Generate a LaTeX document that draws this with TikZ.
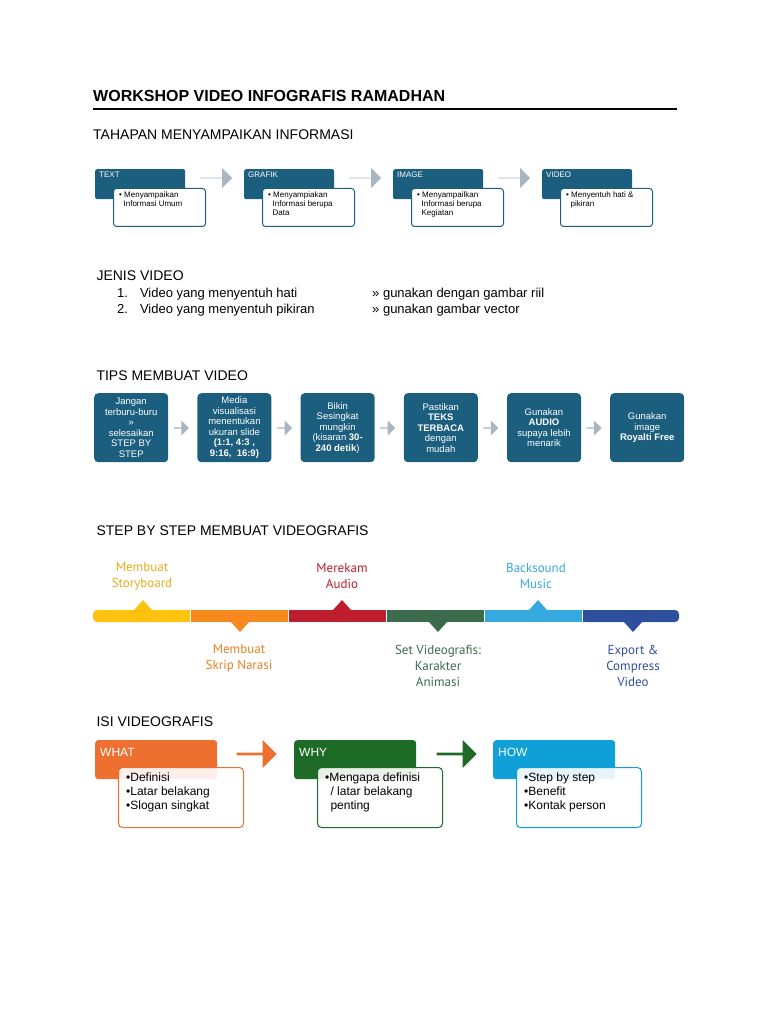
\documentclass[tikz,border=0pt]{standalone}
\usepackage{fontspec}
\setmainfont{Liberation Sans}
\newfontfamily\ptsans{PT Sans}
\usetikzlibrary{shapes.arrows,calc}
\definecolor{teal}{HTML}{1B5E7E}
\definecolor{garrow}{HTML}{A9B5C0}
\definecolor{cY}{HTML}{FFC20E}\definecolor{cO}{HTML}{F7891F}\definecolor{cR}{HTML}{BE1E2D}
\definecolor{cG}{HTML}{3B6B4C}\definecolor{cL}{HTML}{36A9E1}\definecolor{cB}{HTML}{2E4F9E}
\definecolor{tY}{HTML}{E6AC1A}\definecolor{tO}{HTML}{E9801F}
\definecolor{wO}{HTML}{ED7031}\definecolor{wG}{HTML}{1E6B28}\definecolor{wB}{HTML}{10A0D8}
\tikzset{
 head/.style={anchor=base west,font=\fontsize{14}{16}\selectfont},
 dbox/.style={fill=teal,rounded corners=2pt,minimum width=90pt,minimum height=30pt,anchor=north west,inner sep=0pt},
 dlab/.style={anchor=north west,text=white,font=\fontsize{8}{9}\selectfont,inner sep=0pt},
 wbox/.style={draw=teal,line width=1pt,fill=white,rounded corners=3pt,minimum width=92pt,minimum height=38pt,anchor=north west,inner sep=0pt},
 wtxt/.style={anchor=north west,align=left,font=\fontsize{8}{9}\selectfont,inner sep=0pt},
 garr/.style={single arrow,fill=garrow,draw=none,minimum height=32pt,single arrow head extend=4pt,minimum width=20pt,inner sep=0pt,single arrow head indent=0pt},
 tip/.style={fill=teal,rounded corners=4pt,minimum width=74pt,minimum height=69pt,anchor=north west,inner sep=0pt},
 tiptxt/.style={text=white,align=center,font=\fontsize{9.5}{10.5}\selectfont,inner sep=0pt},
 sarr/.style={single arrow,fill=garrow,draw=none,minimum height=15pt,minimum width=15pt,single arrow head extend=2pt,inner sep=0pt},
 stlab/.style={align=center,font=\ptsans\fontsize{13}{16}\selectfont,inner sep=0pt},
 ibox/.style={rounded corners=3pt,minimum width=122pt,minimum height=39pt,anchor=north west,inner sep=0pt},
 iwbox/.style={line width=1pt,fill=white,rounded corners=4pt,minimum width=125pt,minimum height=60pt,anchor=north west,inner sep=0pt},
 itxt/.style={anchor=north west,align=left,font=\fontsize{12}{14}\selectfont,inner sep=0pt},
 iarr/.style={single arrow,draw=none,minimum height=40pt,minimum width=28pt,single arrow head extend=2pt,inner sep=0pt,single arrow head indent=0pt},
}
\begin{document}
\begin{tikzpicture}[x=1pt,y=-1pt]
\useasboundingbox (0,0) rectangle (768,1024);
\node[anchor=base west,font=\bfseries\fontsize{16}{18}\selectfont,inner sep=0pt] (title) at (93,102) {WORKSHOP VIDEO INFOGRAFIS RAMADHAN};
\coordinate (l1) at (93,109); \coordinate (l2) at (677,109);
\draw[line width=1.2pt] (l1) -- (l2);
\node[head,inner sep=0pt] (h1) at (93,140) {TAHAPAN MENYAMPAIKAN INFORMASI};
% stage 1
\foreach \i/\t/\w [count=\k] in {0/TEXT/{• Menyampaikan\\\ \ Informasi Umum},1/GRAFIK/{• Menyampiakan\\\ \ Informasi berupa\\\ \ Data},2/IMAGE/{• Menyampailkan\\\ \ Informasi berupa\\\ \ Kegiatan},3/VIDEO/{• Menyentuh hati \&\\\ \ pikiran}}{
 \node[dbox] (d\k) at (95+149*\i,169) {};
 \node[dlab] (dl\k) at (99+149*\i,172) {\t};
 \node[wbox] (w\k) at (113+149*\i,188) {};
 \node[wtxt] (wt\k) at (119+149*\i,192) {\w};
}
\foreach \i in {0,1,2}{\node[garr] (ga\i) at (216+149*\i,178) {};}
% jenis video
\node[head] (h2) at (93,280) {JENIS VIDEO};
\node[anchor=base west,font=\fontsize{13}{15}\selectfont,inner sep=0pt] (j1) at (117,297) {1.\hspace{12pt}Video yang menyentuh hati};
\node[anchor=base west,font=\fontsize{13}{15}\selectfont,inner sep=0pt] (j1b) at (372,297) {>> gunakan dengan gambar riil};
\node[anchor=base west,font=\fontsize{13}{15}\selectfont,inner sep=0pt] (j2) at (117,313) {2.\hspace{12pt}Video yang menyentuh pikiran};
\node[anchor=base west,font=\fontsize{13}{15}\selectfont,inner sep=0pt] (j2b) at (372,313) {>> gunakan gambar vector};
% tips
\node[head] (h3) at (93,380) {TIPS MEMBUAT VIDEO};
\foreach \i/\t [count=\k] in {0/{Jangan\\terburu-buru\\>>\\selesaikan\\STEP BY\\STEP},1/{Media\\visualisasi\\menentukan\\ukuran slide\\\textbf{(1:1, 4:3 ,}\\\textbf{9:16,\ \ 16:9)}},2/{Bikin\\Sesingkat\\mungkin\\(kisaran \textbf{30-}\\\textbf{240 detik})},3/{Pastikan\\\textbf{TEKS}\\\textbf{TERBACA}\\dengan\\mudah},4/{Gunakan\\\textbf{AUDIO}\\supaya lebih\\menarik},5/{Gunakan\\image\\\textbf{Royalti Free}}}{
 \node[tip] (t\k) at (94+103.2*\i,393) {};
 \node[tiptxt] at (t\k.center) {\t};
}
\foreach \i in {0,...,4}{\node[sarr] (sa\i) at (181+103.2*\i,428) {};}
% step by step
\node[head] (h4) at (93,535) {STEP BY STEP MEMBUAT VIDEOGRAFIS};
\fill[cY,rounded corners=4pt] (93,610) rectangle (190,622);
\fill[cY] (180,610) rectangle (190,622);
\fill[cO] (191,610) rectangle (288,622);
\fill[cR] (289,610) rectangle (386,622);
\fill[cG] (387,610) rectangle (484,622);
\fill[cL] (485,610) rectangle (582,622);
\fill[cB,rounded corners=4pt] (583,610) rectangle (679,622);
\fill[cB] (583,610) rectangle (593,622);
\fill[cY] (134,610) -- (143,600) -- (152,610) -- cycle;
\fill[cR] (333,610) -- (342,600) -- (351,610) -- cycle;
\fill[cL] (529,610) -- (538,600) -- (547,610) -- cycle;
\fill[cO] (231,622) -- (240,632) -- (249,622) -- cycle;
\fill[cG] (429,622) -- (438,632) -- (447,622) -- cycle;
\fill[cB] (624,622) -- (633,632) -- (642,622) -- cycle;
\node[stlab,text=tY] (s1) at (142,576) {Membuat\\Storyboard};
\node[stlab,text=cR] (s3) at (342,576) {Merekam\\Audio};
\node[stlab,text=cL] (s5) at (536,576) {Backsound\\Music};
\node[stlab,text=tO] (s2) at (239,658) {Membuat\\Skrip Narasi};
\node[stlab,text=cG] (s4) at (438,666) {Set Videografis:\\Karakter\\Animasi};
\node[stlab,text=cB] (s6) at (633,666) {Export \&\\Compress\\Video};
% isi videografis
\node[head] (h5) at (93,726) {ISI VIDEOGRAFIS};
\foreach \i/\c/\t/\w [count=\k] in {0/wO/WHAT/{•Definisi\\•Latar belakang\\•Slogan singkat},1/wG/WHY/{•Mengapa definisi\\\ \,/ latar belakang\\\ \,penting},2/wB/HOW/{•Step by step\\•Benefit\\•Kontak person}}{
 \node[ibox,fill=\c] (ib\k) at (95+199*\i,740) {};
 \node[anchor=west,text=white,font=\fontsize{12}{14}\selectfont,inner sep=0pt] (il\k) at (100+199*\i,752) {\t};
 \node[iwbox,draw=\c,fill opacity=0.9] (iw\k) at (118+199*\i,767) {};
 \node[itxt] (it\k) at (126+199*\i,773) {\w};
}
\node[iarr,fill=wO] (ia1) at (256,754) {};
\node[iarr,fill=wG] (ia2) at (456,754) {};
\end{tikzpicture}
\end{document}
